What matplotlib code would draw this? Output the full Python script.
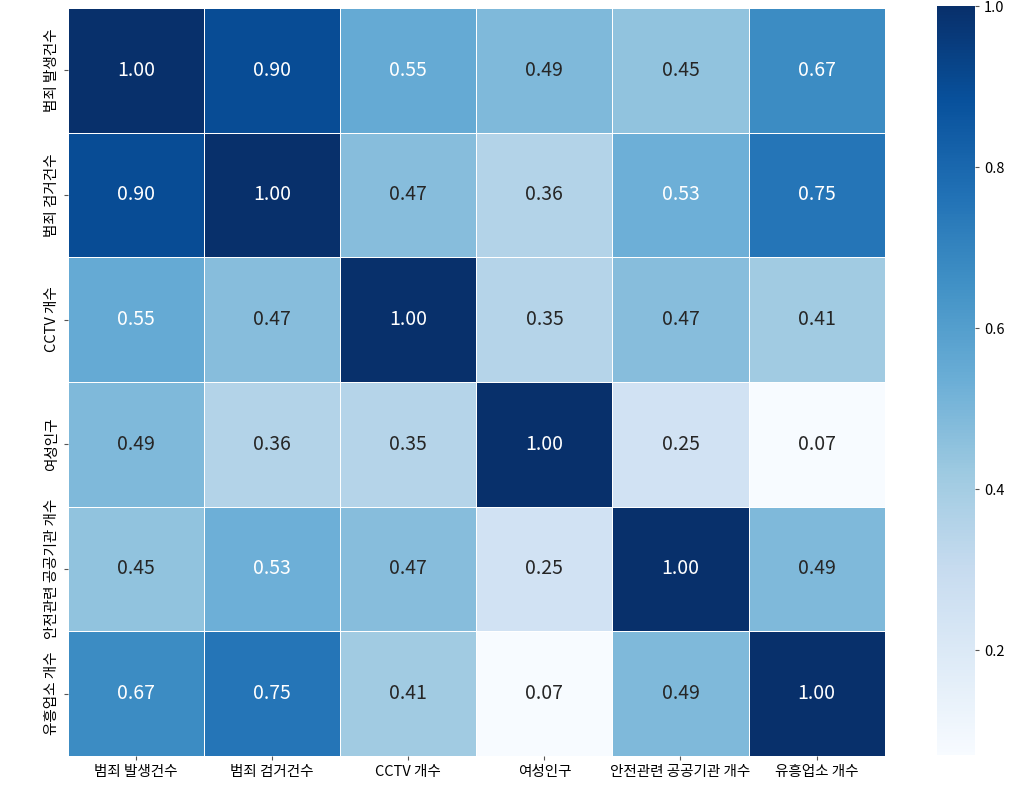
import matplotlib
matplotlib.use("Agg")
import matplotlib.pyplot as plt
import numpy as np
import pandas as pd
import seaborn as sns

labels = ['범죄 발생건수', '범죄 검거건수', 'CCTV 개수', '여성인구', '안전관련 공공기관 개수', '유흥업소 개수']

row_발생 = [1.00, 0.90, 0.55, 0.49, 0.45, 0.67]
row_검거 = [0.90, 1.00, 0.47, 0.36, 0.53, 0.75]
row_cctv = [0.55, 0.47, 1.00, 0.35, 0.47, 0.41]
row_여성 = [0.49, 0.36, 0.35, 1.00, 0.25, 0.07]
row_기관 = [0.45, 0.53, 0.47, 0.25, 1.00, 0.49]
row_유흥 = [0.67, 0.75, 0.41, 0.07, 0.49, 1.00]

corr = pd.DataFrame([row_발생, row_검거, row_cctv, row_여성, row_기관, row_유흥],
                    index=labels, columns=labels)

plt.rcParams['font.family'] = ['Noto Sans CJK KR', 'DejaVu Sans']

fig = plt.figure(figsize=(10.18, 7.93), dpi=100)
ax = fig.add_axes([0.0668, 0.0467, 0.8022, 0.9433])
cax = fig.add_axes([0.9205, 0.0480, 0.0373, 0.9440])

# 상관계수 히트맵
sns.heatmap(corr, ax=ax, cbar_ax=cax, cmap='Blues', annot=True, fmt='.2f',
            linewidths=0.5, linecolor='white', annot_kws={'size': 14})

ax.tick_params(axis='both', labelsize=10.5, length=3, color='#555555')
ax.set_xticklabels(labels, rotation=0)
ax.set_yticklabels(labels, rotation=90, va='center')
cax.tick_params(labelsize=10.5, length=3, color='#555555')
cax.set_yticks([0.2, 0.4, 0.6, 0.8, 1.0])
for s in cax.spines.values():
    s.set_visible(False)

fig.savefig('out.png', dpi=100)
